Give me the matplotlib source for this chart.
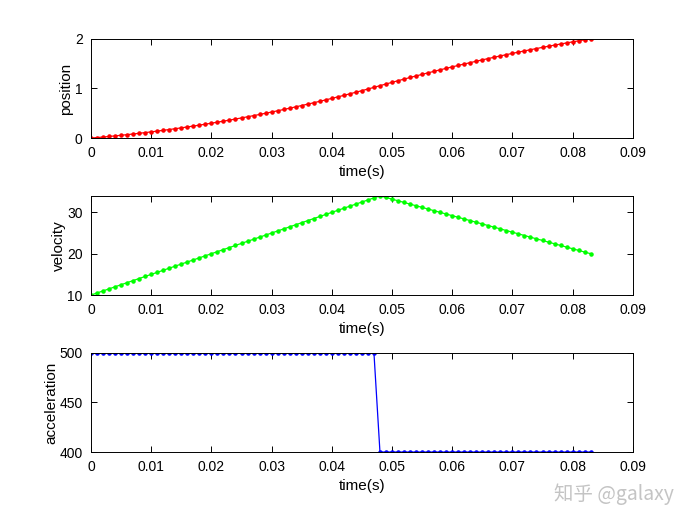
import matplotlib
matplotlib.use("Agg")
import matplotlib.pyplot as plt

plt.rcParams['font.family'] = ['Liberation Sans', 'DejaVu Sans']

time_ms = [0, 1, 2, 3, 4, 5, 6, 7, 8, 9, 10, 11, 12, 13, 14, 15, 16, 17, 18, 19,
           20, 21, 22, 23, 24, 25, 26, 27, 28, 29, 30, 31, 32, 33, 34, 35, 36, 37, 38, 39,
           40, 41, 42, 43, 44, 45, 46, 47, 48, 49, 50, 51, 52, 53, 54, 55, 56, 57, 58, 59,
           60, 61, 62, 63, 64, 65, 66, 67, 68, 69, 70, 71, 72, 73, 74, 75, 76, 77, 78, 79,
           80, 81, 82, 83]

position = [0, 0.01025, 0.021, 0.03225, 0.044, 0.05625, 0.069, 0.08225, 0.096, 0.11025,
            0.125, 0.14025, 0.156, 0.17225, 0.189, 0.20625, 0.224, 0.24225, 0.261, 0.28025,
            0.3, 0.32025, 0.341, 0.36225, 0.384, 0.40625, 0.429, 0.45225, 0.476, 0.50025,
            0.525, 0.55025, 0.576, 0.60225, 0.629, 0.65625, 0.684, 0.71225, 0.741, 0.77025,
            0.8, 0.83025, 0.861, 0.89225, 0.924, 0.95625, 0.989, 1.02225, 1.056,
            1.0898, 1.1232, 1.1562, 1.1888, 1.221, 1.2528, 1.2842, 1.3152, 1.3458, 1.376,
            1.4058, 1.4352, 1.4642, 1.4928, 1.521, 1.5488, 1.5762, 1.6032, 1.6298, 1.656,
            1.6818, 1.7072, 1.7322, 1.7568, 1.781, 1.8048, 1.8282, 1.8512, 1.8738, 1.896,
            1.9178, 1.9392, 1.9602, 1.9808, 2.001]

velocity = [10, 10.5, 11, 11.5, 12, 12.5, 13, 13.5, 14, 14.5,
            15, 15.5, 16, 16.5, 17, 17.5, 18, 18.5, 19, 19.5,
            20, 20.5, 21, 21.5, 22, 22.5, 23, 23.5, 24, 24.5,
            25, 25.5, 26, 26.5, 27, 27.5, 28, 28.5, 29, 29.5,
            30, 30.5, 31, 31.5, 32, 32.5, 33, 33.5, 34,
            33.6, 33.2, 32.8, 32.4, 32.0, 31.6, 31.2, 30.8, 30.4, 30.0,
            29.6, 29.2, 28.8, 28.4, 28.0, 27.6, 27.2, 26.8, 26.4, 26.0,
            25.6, 25.2, 24.8, 24.4, 24.0, 23.6, 23.2, 22.8, 22.4, 22.0,
            21.6, 21.2, 20.8, 20.4, 20.0]

acceleration = [500] * 48 + [400] * 36

xticks = [0, 0.01, 0.02, 0.03, 0.04, 0.05, 0.06, 0.07, 0.08, 0.09]
xticklabels = ['0', '0.01', '0.02', '0.03', '0.04', '0.05', '0.06', '0.07', '0.08', '0.09']

time_s = [t / 1000.0 for t in time_ms]

fig = plt.figure(figsize=(7, 5.25), dpi=100)

specs = [
    (0.737, position, (1, 0, 0), 'position', (0, 2), [0, 1, 2], ['0', '1', '2']),
    (0.438, velocity, (0, 1, 0), 'velocity', (10, 34), [10, 20, 30], ['10', '20', '30']),
    (0.139, acceleration, (0, 0, 1), 'acceleration', (400, 500), [400, 450, 500], ['400', '450', '500']),
]

for bottom, vals, col, lab, ylim, yt, ytl in specs:
    ax = fig.add_axes([0.13, bottom, 0.774, 0.189])
    ax.plot(time_s, vals, '.-', color=col, lw=0.9, markersize=4.5)
    ax.set_xlim(0, 0.09)
    ax.set_ylim(*ylim)
    ax.set_xticks(xticks)
    ax.set_xticklabels(xticklabels)
    ax.set_yticks(yt)
    ax.set_yticklabels(ytl)
    ax.tick_params(direction='in', top=True, right=True, length=4, width=0.7,
                   labelsize=10, pad=6)
    for s in ax.spines.values():
        s.set_linewidth(0.7)
    ax.set_xlabel('time(s)', fontsize=11, labelpad=3)
    ax.set_ylabel(lab, fontsize=11, labelpad=1)

fig.text(0.877, 0.059, '知乎 @galaxy', fontsize=14, color='#c4c4c4', ha='center', va='center',
         family=['Noto Sans CJK SC', 'DejaVu Sans'])

fig.savefig('out.png', dpi=100, facecolor='white')
